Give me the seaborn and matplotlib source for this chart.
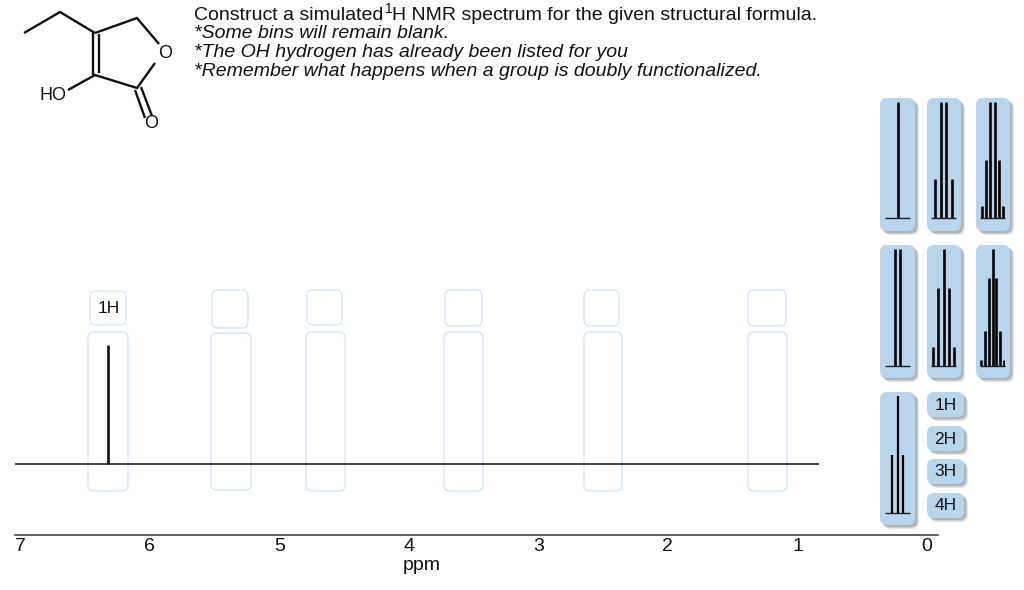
import pandas as pd
import matplotlib.pyplot as plt
import seaborn as sns
from matplotlib.patches import FancyBboxPatch

sns.set_theme(style="white")
plt.rcParams["font.family"] = ["Liberation Sans", "DejaVu Sans"]
plt.rcParams["lines.solid_capstyle"] = "butt"

W, H = 1024, 590

# ------------------------------------ DATA ------------------------------------

ppm_ticks = [7, 6, 5, 4, 3, 2, 1, 0]
peak_ppm = [6.32]
peak_height = [1.0]
baseline_ppm = [7.04, 0.83]

bin_labels = ["1H", "", "", "", "", ""]

singlet = [1]
doublet = [1, 1]
triplet = [1, 2, 1]
quartet = [1, 3, 3, 1]
quintet = [1, 4, 6, 4, 1]
sextet = [1, 5, 10, 10, 5, 1]
septet = [1, 6, 15, 20, 15, 6, 1]

button_labels = ["1H", "2H", "3H", "4H"]

question = [
    "*Some bins will remain blank.",
    "*The OH hydrogen has already been listed for you",
    "*Remember what happens when a group is doubly functionalized.",
]

# ---------------------------------- HELPERS -----------------------------------


def px_axes(fig, left, top, right, bottom):
    return fig.add_axes([left / W, 1 - bottom / H, (right - left) / W, (bottom - top) / H])


def round_box(ax, left, top, right, bottom, radius=6, **kw):
    box = FancyBboxPatch((left + radius, top + radius), right - left - 2 * radius, bottom - top - 2 * radius,
                         boxstyle=f"round,pad={radius},rounding_size={radius}", **kw)
    ax.add_patch(box)


def card(ax, left, top, right, bottom, radius=7):
    round_box(ax, left + 4, top + 4, right + 4, bottom + 4, radius, fc="#e4e4e4", ec="none")
    round_box(ax, left + 2.5, top + 2.5, right + 2.5, bottom + 2.5, radius, fc="#b4b4b4", ec="none")
    round_box(ax, left, top, right, bottom, radius, fc="#b8d5ee", ec="none")


def draw_multiplet(fig, pattern, left, right, top, bottom, spacing, lw=1.9):
    ax = px_axes(fig, left, top, right, bottom)
    ax.patch.set_alpha(0)
    half = (right - left) / 2
    rows = []
    for i, v in enumerate(pattern):
        pos = spacing * (i - (len(pattern) - 1) / 2)
        rows.append({"line": i, "x": pos, "y": 0})
        rows.append({"line": i, "x": pos, "y": v / max(pattern)})
    df = pd.DataFrame(rows)
    sns.lineplot(data=df, x="x", y="y", units="line", estimator=None, color="black", lw=lw, legend=False, ax=ax)
    ax.plot([-half, half], [0, 0], color="#222222", lw=1.0, clip_on=False)
    ax.set_xlim(-half, half)
    ax.set_ylim(0, 1)
    ax.axis("off")


fig = plt.figure(figsize=(W / 100, H / 100), dpi=100, facecolor="white")

# ---------------------------------- PIXEL LAYER --------------------------------

bg = fig.add_axes([0, 0, 1, 1])
bg.set_xlim(0, W)
bg.set_ylim(H, 0)
bg.axis("off")

# question text
bg.text(194, 15, "Construct a simulated", fontsize=14, ha="left", va="center", color="#111111")
bg.text(385.5, 9, "1", fontsize=10, ha="left", va="center", color="#111111")
bg.text(391.5, 15, "H NMR spectrum for the given structural formula.", fontsize=14, ha="left", va="center", color="#111111")
for line, y in zip(question, [34, 52.5, 72]):
    bg.text(194, y, line, fontsize=14, style="italic", ha="left", va="center", color="#111111")

# structure
bonds = [
    [(24, 33), (60, 12), (95, 33)],
    [(95, 33), (137, 18), (159, 44)],
    [(155, 63), (137, 88), (95, 75), (93, 75)],
    [(93, 32), (93, 75)],
    [(99, 34), (99, 73)],
    [(95, 75), (68, 90)],
    [(135, 90), (145, 118)],
    [(141, 87), (152, 116)],
]
for bond in bonds:
    bg.plot([p[0] for p in bond], [p[1] for p in bond], color="#111111", lw=1.7, solid_joinstyle="miter")
bg.text(165, 53, "O", fontsize=13, ha="center", va="center", color="#111111")
bg.text(151, 123, "O", fontsize=13, ha="center", va="center", color="#111111")
bg.text(53, 95, "HO", fontsize=13, ha="center", va="center", color="#111111")

# bins
bin_color = "#cfe3f7"
bin_boxes = [(88, 128, 332, 491), (211, 251, 333, 490), (306, 345, 332, 491),
             (444, 483, 332, 491), (584, 622, 332, 491), (748, 787, 332, 491)]
label_boxes = [(90, 126, 291, 325), (212, 248, 290, 328), (307, 342, 290, 325),
               (445, 482, 290, 326), (584, 619, 290, 326), (748, 786, 290, 326)]
for (l, r, t, b) in bin_boxes:
    round_box(bg, l, t, r, b, 6, fc="none", ec=bin_color, lw=0.9)
for (l, r, t, b), lab in zip(label_boxes, bin_labels):
    round_box(bg, l, t, r, b, 6, fc="none", ec=bin_color, lw=0.9)
    bg.text((l + r) / 2 + 1, (t + b) / 2 + 0.5, lab, fontsize=12.5, ha="center", va="center", color="#111111")

# palette cards
card(bg, 880, 98, 915, 231)
card(bg, 927, 98, 961, 231)
card(bg, 976, 98, 1010, 231)
card(bg, 880, 245, 915, 378)
card(bg, 927, 245, 961, 378)
card(bg, 976, 245, 1010, 378)
card(bg, 880, 392, 915, 525)

button_tops = [392, 426, 459, 493]
for top, lab in zip(button_tops, button_labels):
    card(bg, 927, top, 964, top + 25, radius=7)
    bg.text(945.5, top + 13, lab, fontsize=12.5, ha="center", va="center", color="#111111")

# ---------------------------------- PPM AXIS -----------------------------------

ax = px_axes(fig, 15, 330, 938, 535)
ax.patch.set_alpha(0)

baseline = pd.DataFrame({"ppm": baseline_ppm, "y": [0, 0]})
sns.lineplot(data=baseline, x="ppm", y="y", color="#222222", lw=1.2, ax=ax)

peaks = pd.DataFrame({
    "line": [i for i in range(len(peak_ppm)) for _ in range(2)],
    "ppm": [p for p in peak_ppm for _ in range(2)],
    "y": [v for h in peak_height for v in (0, h)],
})
sns.lineplot(data=peaks, x="ppm", y="y", units="line", estimator=None, color="#111111", lw=1.9, legend=False, ax=ax)

ax.set_xlim(7.04, -0.085)
ax.set_ylim(-71 / 119, 134 / 119)
ax.set_xticks(ppm_ticks)
ax.set_xticklabels([str(t) for t in ppm_ticks], fontsize=14, color="#111111")
ax.set_yticks([])
ax.set_xlabel("")
ax.set_ylabel("")
ax.tick_params(axis="x", length=0, pad=2.3)
for side in ["top", "left", "right"]:
    ax.spines[side].set_visible(False)
ax.spines["bottom"].set_color("#444444")
ax.spines["bottom"].set_linewidth(1.2)

bg.text(422, 566, "ppm", fontsize=14, ha="center", va="center", color="#111111")

# ---------------------------------- MULTIPLETS ---------------------------------

draw_multiplet(fig, singlet, 885, 910, 102, 218, 0)
draw_multiplet(fig, quartet, 931, 956, 102, 218, 5.5)
draw_multiplet(fig, sextet, 980, 1005, 102, 218, 4.3)
draw_multiplet(fig, doublet, 885, 910, 249, 366, 5.5)
draw_multiplet(fig, quintet, 931, 956, 249, 366, 5.3)
draw_multiplet(fig, septet, 980, 1005, 249, 366, 3.8)
draw_multiplet(fig, triplet, 885, 910, 396, 513, 5.3, lw=1.6)

fig.savefig("out.png", dpi=100)
